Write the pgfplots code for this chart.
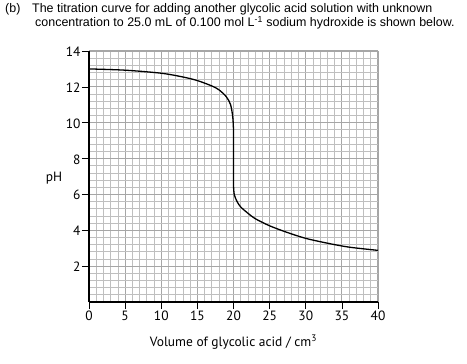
\documentclass[border=0pt]{standalone}
\usepackage{fontspec}
\setmainfont{Liberation Sans}
\newfontfamily\axfont{PT Sans}
\usepackage{pgfplots}
\pgfplotsset{compat=1.18}
\begin{document}
\begin{tikzpicture}
\begin{axis}[
  name=ax,
  at={(0,0)}, anchor=south west,
  width=289bp, height=251bp, scale only axis,
  xmin=0, xmax=40, ymin=0, ymax=14,
  axis lines=left,
  axis line style={-, line width=1.5pt, black},
  xtick={0,5,...,40},
  ytick={2,4,...,14},
  minor xtick={0,1,...,40},
  minor ytick={0,0.4,...,14},
  grid=both,
  minor grid style={gray!50, line width=0.8pt},
  major grid style={gray!70, line width=1.1pt},
  tick align=outside,
  major tick length=7bp,
  minor tick length=0pt,
  tick style={black, line width=0.6pt},
  every tick label/.append style={font=\axfont\fontsize{13.5}{15}\selectfont},
  typeset ticklabels with strut,
  /pgf/number format/assume math mode=true,
  xticklabel style={yshift=2bp},
  yticklabel style={xshift=2bp, yshift=-2.5bp},
  clip=false,
]
\addplot[black, line width=1.3pt, smooth, tension=0.5] coordinates {
(0,13.0) (5,12.93) (10,12.76) (13,12.55) (15,12.35) (17,12.05) (18,11.83) (19,11.45) (19.6,11.0) (19.9,10.3) (20,9.5) (20,8) (20,6.6) (20.1,6.0) (20.5,5.6) (21,5.3) (22,4.95) (23,4.65) (25,4.25) (27.5,3.87) (30,3.55) (33,3.28) (36,3.06) (40,2.88)
};
\end{axis}
\path[use as bounding box] ([shift={(-89bp,-62bp)}]ax.south west) rectangle ([shift={(378bp,302bp)}]ax.south west);
\node[anchor=base west, inner sep=0pt, font=\fontsize{12.5}{14}\selectfont] at ([shift={(-84bp,289bp)}]ax.south west) {(b)};
\node[anchor=base west, inner sep=0pt, font=\fontsize{12.5}{14}\selectfont] at ([shift={(-57bp,289bp)}]ax.south west) {The titration curve for adding another glycolic acid solution with unknown};
\node[anchor=base west, inner sep=0pt, font=\fontsize{12.5}{14}\selectfont] at ([shift={(-54bp,275bp)}]ax.south west) {concentration to 25.0 mL of 0.100 mol L\textsuperscript{-1} sodium hydroxide is shown below.};
\node[anchor=center, inner sep=0pt, font=\axfont\fontsize{13.5}{15}\selectfont] at ([shift={(-35bp,124bp)}]ax.south west) {pH};
\node[anchor=center, inner sep=0pt, font=\axfont\fontsize{13.5}{15}\selectfont] at ([shift={(144.5bp,-40bp)}]ax.south west) {Volume of glycolic acid / cm\textsuperscript{3}};
\end{tikzpicture}
\end{document}
